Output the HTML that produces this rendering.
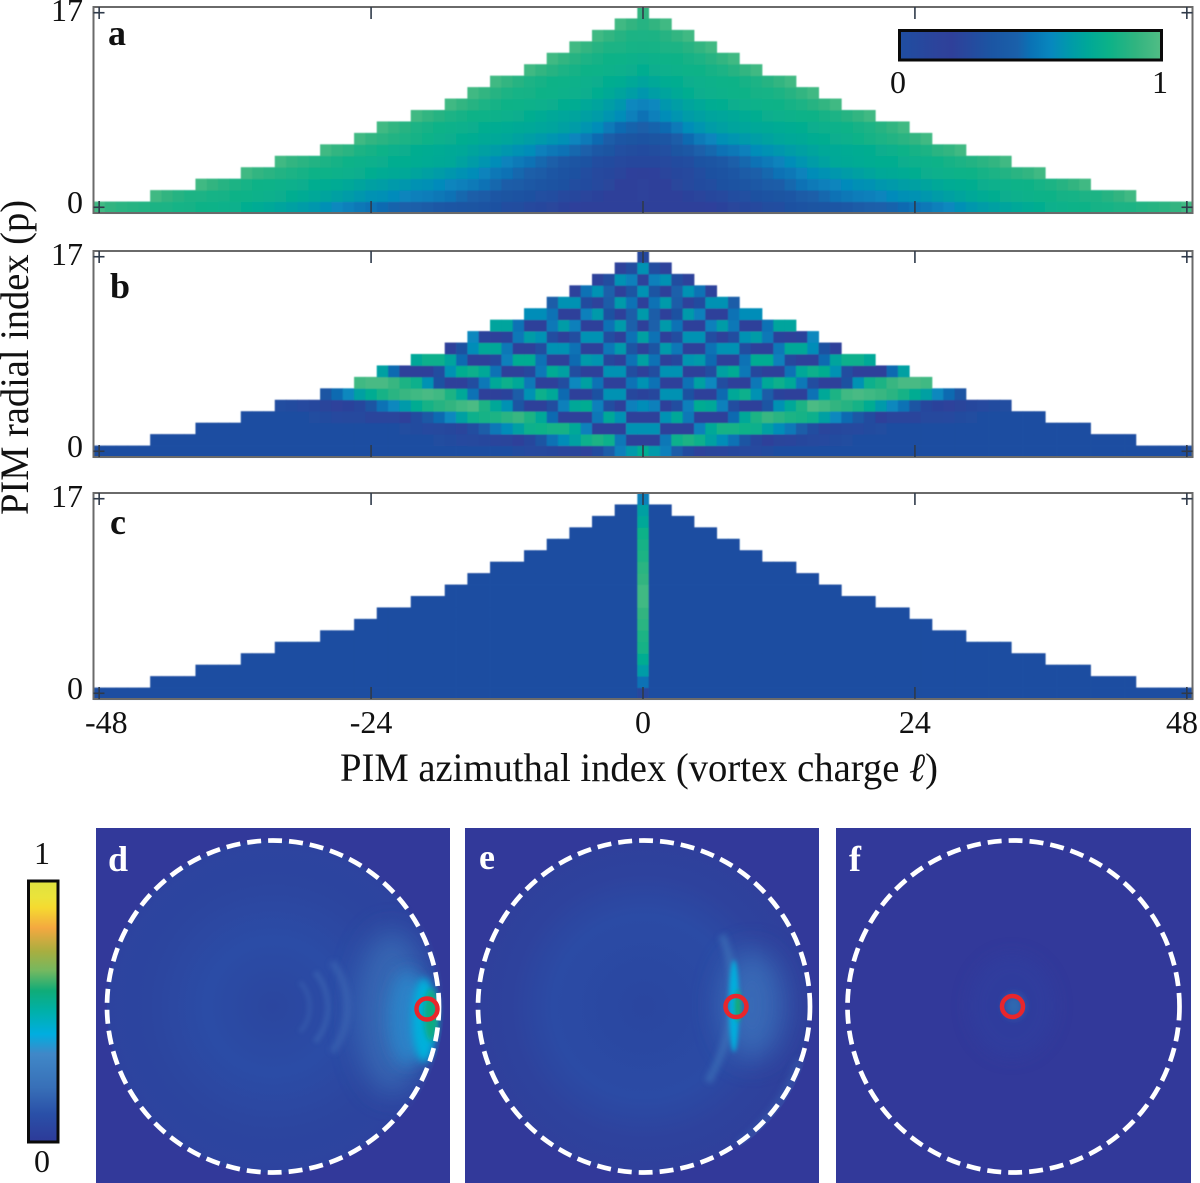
<!DOCTYPE html>
<html lang="en">
<head>
<meta charset="utf-8">
<title>PIM spectra</title>
<style>
html,body{margin:0;padding:0;background:#fff;}
svg{display:block;font-family:"Liberation Serif",serif;}
text{fill:#111;}
</style>
</head>
<body>
<svg id="fig" xmlns="http://www.w3.org/2000/svg" width="1200" height="1183" viewBox="0 0 1200 1183">
<defs>
<linearGradient id="gradTop" x1="0" x2="1" y1="0" y2="0"></linearGradient>
<linearGradient id="gradSide" x1="0" x2="0" y1="1" y2="0"></linearGradient>
<filter id="soft"><feGaussianBlur stdDeviation="0.55"/></filter>
<filter id="b2" x="-60%" y="-60%" width="220%" height="220%"><feGaussianBlur stdDeviation="2"/></filter>
<filter id="b3" x="-60%" y="-60%" width="220%" height="220%"><feGaussianBlur stdDeviation="3"/></filter>
<filter id="b4" x="-60%" y="-60%" width="220%" height="220%"><feGaussianBlur stdDeviation="4"/></filter>
<filter id="b8" x="-60%" y="-60%" width="220%" height="220%"><feGaussianBlur stdDeviation="8"/></filter>
<filter id="b14" x="-80%" y="-80%" width="260%" height="260%"><feGaussianBlur stdDeviation="14"/></filter>
<radialGradient id="discD" cx="0.5" cy="0.5" r="0.5"><stop offset="0" stop-color="#2b469f"/><stop offset="0.4" stop-color="#2b4ca6"/><stop offset="0.75" stop-color="#2c459f"/><stop offset="1" stop-color="#2d439f"/></radialGradient>
<radialGradient id="discE" cx="0.5" cy="0.5" r="0.5"><stop offset="0" stop-color="#2a46a0"/><stop offset="0.55" stop-color="#2b4ba5"/><stop offset="0.8" stop-color="#2e429d"/><stop offset="1" stop-color="#2f409c"/></radialGradient>
<clipPath id="clipD"><rect x="96" y="828" width="354" height="355"/></clipPath>
<clipPath id="clipE"><rect x="465" y="828" width="354" height="355"/></clipPath>
<clipPath id="clipF"><rect x="836" y="828" width="355" height="355"/></clipPath>
<clipPath id="discClipD"><circle cx="273" cy="1006.5" r="171"/></clipPath>
<clipPath id="discClipE"><circle cx="644" cy="1006.5" r="170"/></clipPath>
</defs>

<rect x="0" y="0" width="1200" height="1183" fill="#fff"/>

<g id="panelA"></g>
<g id="panelB"></g>
<g id="panelC"></g>

<text x="108" y="45" font-size="36" font-weight="bold">a</text>
<text x="110" y="298" font-size="36" font-weight="bold">b</text>
<text x="110" y="534" font-size="36" font-weight="bold">c</text>

<rect x="899.5" y="30.5" width="262" height="29.5" fill="url(#gradTop)" stroke="#0a0a0a" stroke-width="3"/>
<text x="898" y="93" font-size="32" text-anchor="middle">0</text>
<text x="1160" y="93" font-size="32" text-anchor="middle">1</text>

<text transform="translate(28,515) rotate(-90)" font-size="40" textLength="315" lengthAdjust="spacingAndGlyphs">PIM radial index (p)</text>
<text x="340" y="781" font-size="40" textLength="598" lengthAdjust="spacingAndGlyphs">PIM azimuthal index (vortex charge <tspan font-style="italic">ℓ</tspan>)</text>

<g>
<rect x="28.5" y="881" width="29.5" height="261" fill="url(#gradSide)" stroke="#0a0a0a" stroke-width="3"/>
<text x="42" y="864" font-size="32" text-anchor="middle">1</text>
<text x="42" y="1172" font-size="32" text-anchor="middle">0</text>
</g>

<g clip-path="url(#clipD)">
<rect x="96" y="828" width="354" height="355" fill="#32399a"/>
<circle cx="273" cy="1006.5" r="166" fill="url(#discD)"/>
<g clip-path="url(#discClipD)">
<ellipse cx="392" cy="1012" rx="36" ry="82" fill="#3a72ba" opacity="0.75" filter="url(#b14)"/>
<path d="M300 982 A37 37 0 0 1 300 1032" fill="none" stroke="#3f6cb6" stroke-width="5" opacity="0.35" filter="url(#b2)"/>
<path d="M315 972 A54 54 0 0 1 315 1042" fill="none" stroke="#3f6cb6" stroke-width="6" opacity="0.45" filter="url(#b2)"/>
<path d="M332 962 A74 74 0 0 1 332 1052" fill="none" stroke="#3f6cb6" stroke-width="7" opacity="0.55" filter="url(#b3)"/>
<ellipse cx="408" cy="1018" rx="20" ry="48" fill="#2a88cc" opacity="0.85" filter="url(#b8)"/>
<ellipse cx="424" cy="1020" rx="12" ry="42" fill="#00b0dc" filter="url(#b4)"/>
<ellipse cx="431" cy="1015" rx="7" ry="26" fill="#10ac80" filter="url(#b3)"/>
</g>
</g>

<g clip-path="url(#clipE)">
<rect x="465" y="828" width="354" height="355" fill="#32399a"/>
<circle cx="644" cy="1006.5" r="166" fill="url(#discE)"/>
<g clip-path="url(#discClipE)">
<ellipse cx="752" cy="1005" rx="32" ry="55" fill="#3a70ba" opacity="0.85" filter="url(#b14)"/>
<path d="M722 935 Q750 1005 708 1082" fill="none" stroke="#3f78bc" stroke-width="8" opacity="0.55" filter="url(#b3)"/>
<path d="M800 1060 A166 166 0 0 1 740 1145" fill="none" stroke="#3a6cb6" stroke-width="8" opacity="0.5" filter="url(#b4)"/>
<ellipse cx="734" cy="1006" rx="5" ry="46" fill="#00aedd" filter="url(#b2)"/>
<ellipse cx="738" cy="1006" rx="3" ry="16" fill="#16ac70" filter="url(#b2)"/>
</g>
</g>

<g clip-path="url(#clipF)">
<rect x="836" y="828" width="355" height="355" fill="#32399a"/>
<ellipse cx="1012" cy="1006" rx="44" ry="52" fill="#2d41a0" opacity="0.55" filter="url(#b8)"/>
<ellipse cx="1014" cy="1006" rx="10" ry="12" fill="#2f68b0" filter="url(#b4)"/>
</g>

<circle cx="273" cy="1006.5" r="166" fill="none" stroke="#fff" stroke-width="4.7" stroke-dasharray="14 7"/>
<circle cx="644" cy="1006.5" r="166" fill="none" stroke="#fff" stroke-width="4.7" stroke-dasharray="14 7"/>
<circle cx="1013.5" cy="1006.5" r="166" fill="none" stroke="#fff" stroke-width="4.7" stroke-dasharray="14 7"/>
<circle cx="427" cy="1009" r="10.5" fill="none" stroke="#e8262c" stroke-width="4.5"/>
<circle cx="736" cy="1006.5" r="10.5" fill="none" stroke="#e8262c" stroke-width="4.5"/>
<circle cx="1012.5" cy="1006.5" r="10.5" fill="none" stroke="#e8262c" stroke-width="4.5"/>
<text x="108" y="871" font-size="36" style="fill:#fff" font-weight="bold">d</text>
<text x="479" y="869" font-size="36" style="fill:#fff" font-weight="bold">e</text>
<text x="849" y="871" font-size="36" style="fill:#fff" font-weight="bold">f</text>
</svg>

<script>
// Largest |azimuthal index| present at each radial index p = 0..17
const rowExtents = [48,43,39,35,32,28,25,23,20,17,15,13,10,8,6,4,2,0];

// Normalised values (percent), per radial index p, listed from l = 0 outwards (mirrored for -l).
const panelAValues = [
[18,18,18,19,19,20,21,22,24,25,27,29,30,32,33,34,35,37,38,40,43,45,46,48,50,52,55,58,61,64,66,68,70,72,74,76,78,79,80,81,82,83,84,85,86,87,88,90,95],
[17,18,18,20,22,23,25,27,30,31,32,33,34,36,40,44,47,50,52,54,55,57,59,61,62,64,66,68,70,72,74,76,77,78,79,80,81,82,83,84,85,87,90,95],
[17,18,20,24,27,28,30,32,33,35,38,40,42,47,50,53,55,57,59,61,62,64,65,67,68,70,72,74,75,76,77,78,79,80,81,83,85,87,90,95],
[20,21,23,25,27,30,32,33,37,41,44,47,50,52,56,60,62,64,66,68,70,72,73,74,76,77,78,79,80,81,82,84,86,88,91,95],
[25,25,26,28,30,33,35,38,43,47,50,53,56,60,63,66,69,72,73,74,75,76,76,77,78,79,80,82,84,86,88,91,95],
[28,29,31,34,38,45,47,50,52,55,60,62,64,66,68,70,72,73,74,75,76,77,78,80,82,85,88,91,95],
[33,34,36,42,48,53,57,61,63,65,67,69,71,72,73,75,76,77,78,80,82,84,86,88,91,95],
[44,46,48,53,60,63,66,68,70,71,72,73,74,75,76,77,78,79,80,82,84,87,91,95],
[50,55,60,63,66,68,70,71,72,74,76,77,78,79,80,81,82,84,87,91,95],
[56,58,64,67,70,72,75,76,77,78,79,80,81,82,84,87,91,95],
[64,67,70,73,76,77,78,79,80,81,82,83,85,87,91,95],
[70,72,75,76,77,78,79,80,81,82,84,87,91,95],
[76,77,78,79,80,81,82,84,87,91,95],
[78,79,80,81,82,84,87,91,95],
[82,83,84,85,87,91,95],
[84,85,87,91,95],
[87,90,95],
[90]
];

// Missing trailing entries are zero.
const panelBValues = [
[75,65,55,42,28,16,14,12,10,8,6,4],
[18,18,52,78,85,78,68,60,50,35,25,20,14,12,10,8,6,4,2],
[62,62,20,20,20,55,72,82,82,80,78,68,60,52,42,30,12,10,8,6,4,2],
[20,20,62,72,52,20,18,18,48,72,85,92,88,85,82,78,68,58,48,38,28,20,12,12,12,8,8,6,4,2],
[60,55,18,30,55,75,72,55,30,20,18,35,62,72,85,98,95,90,87,82,75,65,58,50,35,25,22,15,14,10,6,4,2],
[22,25,62,62,32,20,20,48,72,78,62,42,22,20,20,50,72,85,95,97,95,92,88,82,75,68,58,48,35],
[62,50,20,20,50,68,58,30,20,20,52,72,78,72,52,30,18,18,32,62,78,85,92,97,97,95],
[18,30,62,62,20,18,30,68,74,52,25,20,20,50,72,78,76,62,30,20,18,20,48,68],
[68,50,20,25,63,65,48,18,18,50,75,75,55,25,20,20,48,70,78,78,72],
[18,35,65,52,18,18,50,62,62,30,20,20,52,72,72,60,32,18],
[68,50,18,30,62,62,30,18,30,62,66,52,22,18,22,58],
[18,45,65,50,20,20,55,66,52,18,18,50,70,70],
[65,42,18,32,65,55,18,18,50,60,60],
[18,50,65,42,15,28,62,62,42],
[62,35,18,45,62,50,15],
[15,55,62,30,15],
[62,30,15],
[10]
];

const panelCValues = [
[25],[50],[66],[75],[82],[85],[88],[90],[95],[95],[90],[88],[85],[82],[80],[72],[68],[55]
];

const xTickValues = [-48,-24,0,24,48];
const xTickLabels = ["-48","-24","0","24","48"];
const yTickValues = [0,17];
const yTickLabels = ["0","17"];

// Panel colormap stops: fraction, colour
const panelCmapStops = [0,0.15,0.2,0.35,0.45,0.5,0.58,0.65,0.72,0.8,0.9,1];
const panelCmapColors = ["#1f4ea1","#2d439b","#2f409a","#1b55a3","#1a60aa","#0a72b5","#0788be","#009aaa","#00a898","#0cb288","#30b480","#52bd85"];
// Image colormap stops: fraction, colour
const imageCmapStops = [0,0.108,0.21,0.338,0.414,0.503,0.58,0.656,0.73,0.82,0.898,0.936,1];
const imageCmapColors = ["#2d3a98","#2a50a8","#3870b8","#4088c8","#00aee0","#00b0a8","#10ac78","#74b860","#a8ae40","#f4a840","#f5da30","#ebe33a","#dfe240"];

const SVG_NS = "http://www.w3.org/2000/svg";
const axisCenterX = 643, unitX = 11.33, rowH = 206 / 18;
const xScale = l => axisCenterX + l * unitX;
const yScale = (p, top) => top + (17 - p + 0.5) * rowH;

function hexToRgb(h){ return [1,3,5].map(i => parseInt(h.substr(i,2),16)); }
function colorFor(pct){
  const v = Math.max(0, Math.min(1, pct / 100));
  for (let i = 1; i < panelCmapStops.length; i++) {
    if (v <= panelCmapStops[i]) {
      const t = (v - panelCmapStops[i-1]) / (panelCmapStops[i] - panelCmapStops[i-1]);
      const a = hexToRgb(panelCmapColors[i-1]), b = hexToRgb(panelCmapColors[i]);
      return "rgb(" + a.map((c,k) => Math.round(c + (b[k]-c)*t)).join(",") + ")";
    }
  }
  return panelCmapColors[panelCmapColors.length-1];
}
function make(tag, attrs){
  const el = document.createElementNS(SVG_NS, tag);
  for (const k in attrs) el.setAttribute(k, attrs[k]);
  return el;
}

function drawPanel(groupId, values, top, panelKey){
  const g = document.getElementById(groupId);
  const left = xScale(-48.5), right = xScale(48.5);
  const cells = make("g", {filter: "url(#soft)"});
  
  
  g.appendChild(cells);
  // cells
  rowExtents.forEach((ext, p) => {
    const row = values[p];
    for (let l = -ext; l <= ext; l++) {
      const v = row[Math.abs(l)] || 0;
      const cell = make("rect", {
        x: xScale(l - 0.5).toFixed(2),
        y: (yScale(p, top) - rowH/2).toFixed(2),
        width: (unitX + 0.4).toFixed(2),
        height: (rowH + 0.4).toFixed(2),
        fill: colorFor(v)
      });
      
      
      cells.appendChild(cell);
    }
  });
  // frame
  const frame = make("rect", {x:left, y:top, width:right-left, height:206, fill:"none", stroke:"#6a6a6a", "stroke-width":2});
  
  
  g.appendChild(frame);
  // x ticks
  xTickValues.forEach((val, i) => {
    const tx = xScale(val);
    [[top, top+12],[top+206-12, top+206]].forEach(seg => {
      const t = make("line", {x1:tx, x2:tx, y1:seg[0], y2:seg[1], stroke:"#2f3a4a", "stroke-width":1.6});
      
      
      g.appendChild(t);
    });
    if (panelKey === "c") {
      const lab = make("text", {y: 733, "font-size": 32});
      lab.textContent = xTickLabels[i];
      if (i === 0) { lab.setAttribute("x", 85); lab.setAttribute("text-anchor", "start"); }
      else if (i === xTickValues.length - 1) { lab.setAttribute("x", 1198); lab.setAttribute("text-anchor", "end"); }
      else { lab.setAttribute("x", tx); lab.setAttribute("text-anchor", "middle"); }
      
      
      g.appendChild(lab);
    }
  });
  // y ticks
  yTickValues.forEach((val, i) => {
    const ty = yScale(val, top);
    [[left, left+11],[right-11, right]].forEach(seg => {
      const t = make("line", {x1:seg[0], x2:seg[1], y1:ty, y2:ty, stroke:"#2f3a4a", "stroke-width":1.6});
      
      
      g.appendChild(t);
    });
    const lab = make("text", {x: 83, y: ty + (val ? 8.5 : 5.5), "font-size": 32, "text-anchor": "end"});
    lab.textContent = yTickLabels[i];
    
    
    g.appendChild(lab);
  });
}

function fillGradient(id, stops, colors){
  const grad = document.getElementById(id);
  stops.forEach((s, i) => {
    const st = make("stop", {offset: s, "stop-color": colors[i]});
    grad.appendChild(st);
  });
}

drawPanel("panelA", panelAValues, 7, "a");
drawPanel("panelB", panelBValues, 251, "b");
drawPanel("panelC", panelCValues, 493, "c");
fillGradient("gradTop", panelCmapStops, panelCmapColors);
fillGradient("gradSide", imageCmapStops, imageCmapColors);
</script>
</body>
</html>
